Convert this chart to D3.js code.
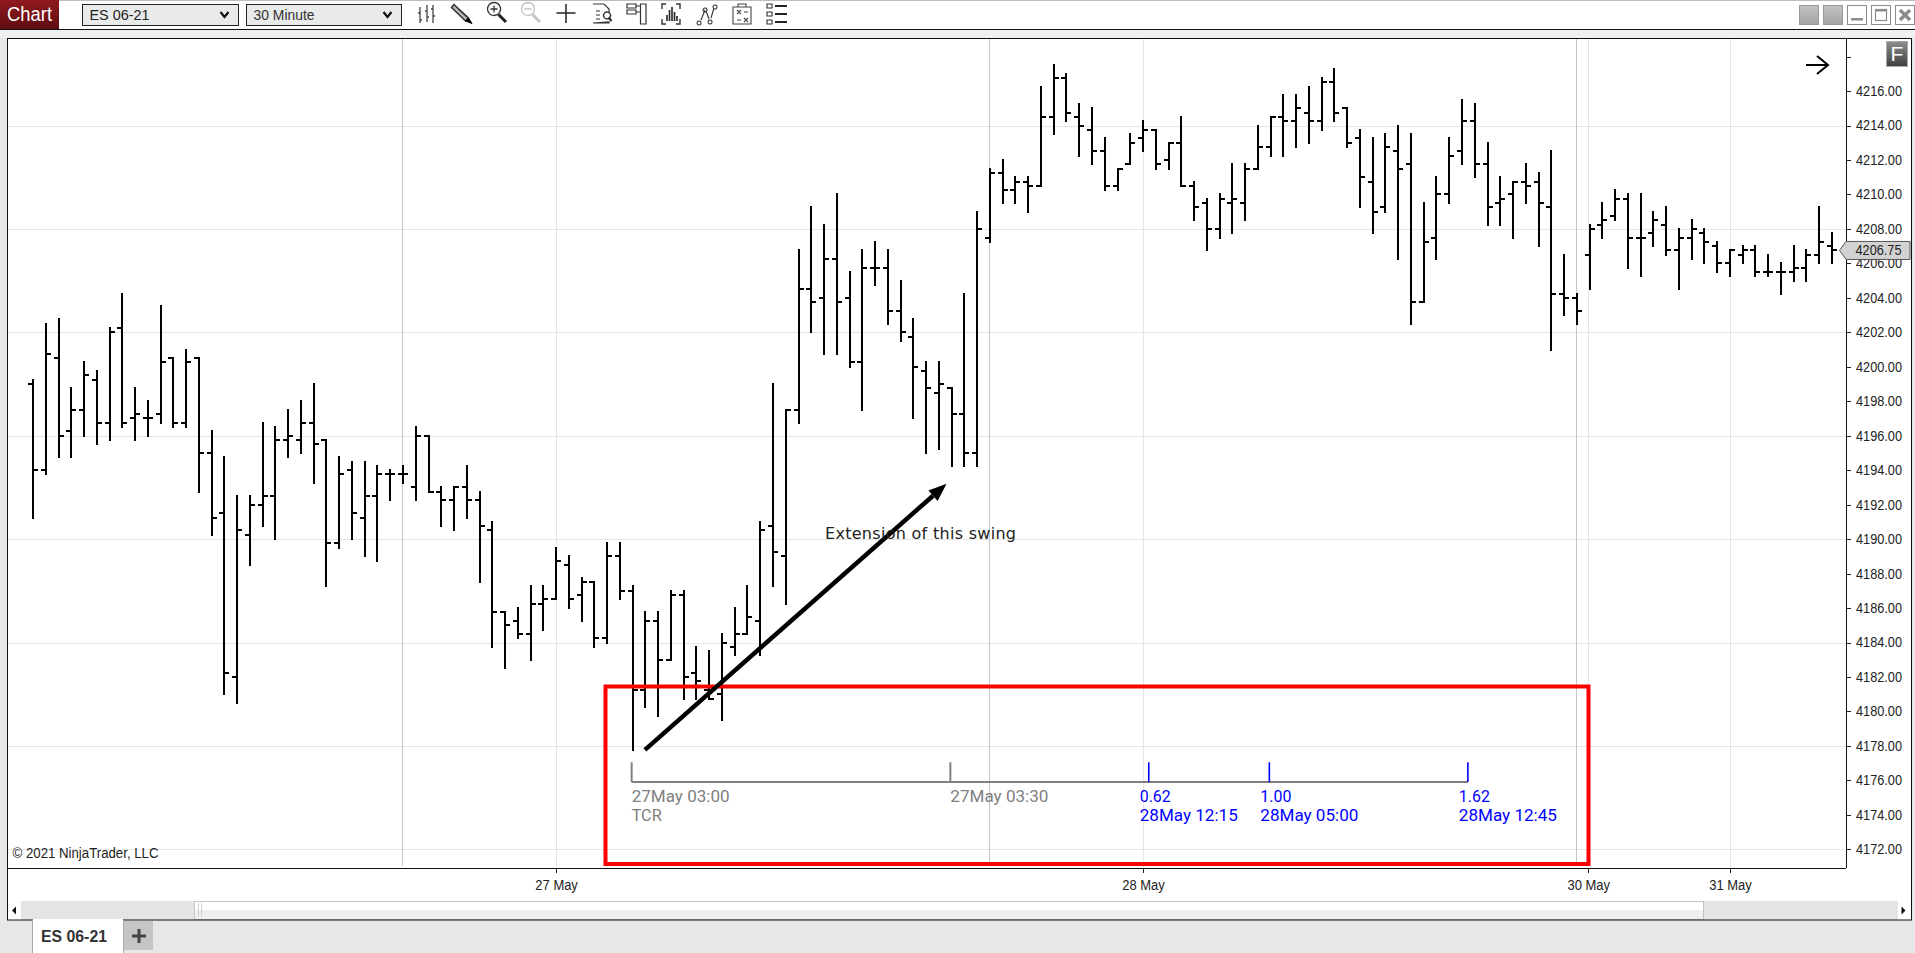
<!DOCTYPE html>
<html>
<head>
<meta charset="utf-8">
<style>
body{margin:0;background:#e6e7e9;overflow:hidden;}
svg{display:block;}
text{font-family:"Liberation Sans",Arial,sans-serif;}
.bar line{stroke:#000;stroke-width:2px;shape-rendering:crispEdges;}
.axis path{display:none;}
.axis line{stroke:#222;shape-rendering:crispEdges;}
.axis text{font-size:14px;fill:#222;font-family:"Liberation Sans",Arial,sans-serif;}
.grid{stroke:#e6e6e6;stroke-width:1px;shape-rendering:crispEdges;}
.session{stroke:#c6c6c6;stroke-width:1px;shape-rendering:crispEdges;}
.fibText{font-family:Roboto,sans-serif;font-size:16px;}
</style>
</head>
<body>
<script src="https://d3js.org/d3.v7.min.js"></script>
<script>
// ---------- 30 minute bars, ES 06-21 ------------
var barOpen = [
4199,4194,4200.5,4196.25,4197.5,4199.25,4196.75,4202.25,4197,4197,
4197.25,4200.5,4196.75,4200.5,4195,4191.5,4182,4190.25,4192,4192.5,
4195.75,4195.75,4196.75,4195.75,4189.75,4194,4191.25,4192.5,4193.75,4193.75,
4193,4196,4192.75,4192.25,4193,4192.25,4190.5,4185.75,4185.25,4184.5,
4186.25,4186.5,4188.5,4186.75,4187.5,4184.25,4189,4187,4181.25,4185.25,
4183,4186.75,4182.25,4181.25,4181,4183.75,4184.5,4185.25,4190.75,4189,
4197.5,4204.5,4204,4206.25,4204,4200.25,4205.75,4205.75,4203.25,4201.75,
4199.75,4198.5,4198.75,4197.25,4195,4207.5,4211.25,4210.25,4210.75,4210.5,
4214.5,4216.75,4214.5,4213.75,4212.5,4210.5,4211.75,4213.25,4213.75,4212,
4213,4210.5,4209.5,4208,4209.5,4209.5,4211.5,4212.75,4214.5,4214.25,
4214.75,4214.25,4216.5,4215,4213.25,4210.75,4209.25,4212.5,4211.75,4203.75,
4207.5,4210,4212.5,4214.25,4211.75,4209.5,4210,4210.75,4210.75,4209.25,
4204.25,4204,4206.5,4208.25,4208.75,4209.75,4207.5,4207.75,4208.25,4206.75,
4207.5,4207.75,4207,4206,4206.5,4206.75,4205.5,4205.5,4205.5,4205.75,
4206.5,4207];
var barHigh = [
4199.25,4202.5,4202.75,4198.75,4200.25,4199.75,4202.25,4204.25,4198.75,4198,
4203.5,4200.5,4201,4200.5,4196.25,4194.75,4192.5,4192.5,4196.75,4196.5,
4197.5,4198,4199,4195.75,4194.75,4194.5,4194.5,4194.25,4194,4194.25,
4196.5,4196,4193,4193,4194.25,4192.75,4191,4185.75,4186,4187.25,
4187.25,4189.5,4189,4187.75,4187.5,4189.75,4189.75,4187.25,4185.75,4185.75,
4187,4187,4183.75,4183.5,4184.5,4186,4187.25,4191,4199,4197.5,
4206.75,4209.25,4208.25,4210,4205.5,4206.75,4207.25,4206.75,4205,4202.75,
4200.25,4200.25,4198.75,4204.25,4209,4211.5,4212,4211,4211,4216.25,
4217.5,4217,4215.25,4215,4213.25,4211.5,4213.5,4214.25,4213.75,4213,
4214.5,4210.75,4209.75,4210,4211.75,4211.75,4214,4214.5,4215.75,4215.75,
4216.25,4216.75,4217.25,4215,4213.75,4213.25,4213.5,4214,4213.5,4209.5,
4211,4213.25,4215.5,4215.25,4213,4211,4210.75,4211.75,4211.25,4212.5,
4206.5,4204.25,4208.25,4209.5,4210.25,4210,4210,4209,4209.25,4208,
4208.5,4208,4207.25,4206.75,4207,4207,4206.5,4206,4207,4206.75,
4209.25,4207.75];
var barLow = [
4191.25,4193.75,4194.75,4194.75,4196,4195.5,4195.75,4196.5,4195.75,4196,
4196.75,4196.5,4196.5,4192.75,4190.25,4181,4180.5,4188.5,4190.75,4190,
4194.75,4195,4193.25,4187.25,4189.5,4190,4189,4188.75,4192.25,4193.25,
4192.25,4192.75,4190.75,4190.5,4191.25,4187.5,4183.75,4182.5,4184.25,4183,
4184.75,4186.5,4186,4185.25,4183.75,4184,4186.5,4177.75,4180.25,4179.75,
4183,4180.75,4180.75,4180.75,4179.5,4183.25,4184.5,4183.25,4187.25,4186.25,
4196.75,4202,4200.75,4200.75,4200,4197.5,4204.75,4202.5,4201.5,4197,
4195,4195.25,4194.25,4194.25,4194.25,4207.25,4209.5,4209.5,4209,4210.5,
4213.5,4214.25,4212.25,4211.75,4210.25,4210.25,4211.75,4212.5,4211.5,4211.5,
4210.5,4208.5,4206.75,4207.5,4207.75,4208.5,4211.5,4212.25,4212.25,4212.75,
4213,4213.75,4214.25,4212.75,4209.25,4207.75,4209,4206.25,4202.5,4203.75,
4206.25,4209.5,4211.75,4211,4208.25,4208.25,4207.5,4209.5,4207,4201,
4203,4202.5,4204.5,4207.5,4208.5,4205.75,4205.25,4207,4206.5,4204.5,
4206.25,4206,4205.5,4205.25,4206,4205.25,4205.25,4204.25,4205,4205,
4206,4206];
var barClose = [
4194,4200.75,4196,4197.5,4199.5,4196.75,4202,4196.75,4197.25,4197,
4200.25,4196.75,4200.25,4195,4191.25,4182.25,4190.5,4192,4192.5,4195.75,
4196,4196.75,4195.5,4189.75,4193.75,4191.5,4192.5,4193.75,4193.75,4193.75,
4196,4192.75,4192.25,4193,4192.25,4190.75,4185.75,4185,4184.5,4186.25,
4186.5,4188.75,4186.5,4187.5,4184.25,4189,4187,4181.25,4185.25,4183,
4186.75,4182,4181.75,4180.75,4184,4184.5,4185.5,4190.5,4189.25,4197.5,
4204.5,4203.75,4206.25,4203.75,4200.25,4205.75,4205.75,4203.25,4202,4200,
4198.75,4199,4197.25,4195,4208,4211.25,4210.25,4210.75,4210.5,4214.5,
4216.75,4214.75,4214,4212.5,4210.5,4211.5,4213,4213.75,4211.75,4213,
4210.5,4209.25,4208,4209.75,4209.75,4211.5,4212.75,4214.5,4214.25,4215,
4214.25,4216.5,4214.75,4213,4211,4209,4212.75,4211.5,4203.75,4207.25,
4210,4212.25,4214.25,4211.75,4209.25,4209.75,4210.75,4210.5,4209.5,4204.25,
4204,4203.25,4208,4208.5,4209.75,4207.5,4207.5,4208.5,4206.75,4207.5,
4208,4207.25,4206,4206.75,4206.75,4205.5,4205.5,4205.5,4205.75,4206.5,
4207.25,4206.75];

// axis values
var priceTicks = [4172,4174,4176,4178,4180,4182,4184,4186,4188,4190,4192,4194,4196,4198,4200,4202,4204,4206,4208,4210,4212,4214,4216,4218];
var priceGrid = [4172,4178,4184,4190,4196,4202,4208,4214];
var dateBars = [41,87,121.9,133];
var dateLabels = ["27 May","28 May","30 May","31 May"];
var sessionBars = [29,75,121];
var lastPrice = 4206.75;

// drawing objects, in bar / price units
var arrowBars = [47.96,71.6];
var arrowPrices = [4177.77,4193.21];
var fibLevelPrice = 4175.9;
var fibTopPrice = 4177.05;
var fibBars = [46.92,71.9,87.45,96.9,112.46];
var fibColors = ["#808080","#808080","#0000ff","#0000ff","#0000ff"];
var fibLine1 = ["27May 03:00","27May 03:30","0.62","1.00","1.62"];
var fibLine2 = ["TCR","","28May 12:15","28May 05:00","28May 12:45"];
var noteText = "Extension of this swing";

var width = 1915, height = 953;
var frameLeft = 7.5, frameRight = 1911.5, frameTop = 38.5, frameBottom = 920;
var axisX = 1846, axisY = 868;

var x = d3.scaleLinear().domain([0,141]).range([33,1832]);
var y = d3.scaleLinear().domain([4172,4214]).range([849.3,125.5]);
var px = function(i){ return Math.round(x(i)); };
var py = function(v){ return Math.round(y(v)); };

var svg = d3.select("body").append("svg").attr("width",width).attr("height",height);

// ---------- window chrome ------------
var defs = svg.append("defs");
function vGrad(id,a,b){
    var g = defs.append("linearGradient").attr("id",id).attr("x1",0).attr("y1",0).attr("x2",0).attr("y2",1);
    g.append("stop").attr("offset","0%").attr("stop-color",a);
    g.append("stop").attr("offset","100%").attr("stop-color",b);
}
vGrad("redBtn","#8f1a1f","#5f0c10");
vGrad("grayBtn","#c4c2c2","#a5a3a3");
vGrad("fBtn","#8d8d8d","#3f3f3f");

svg.append("rect").attr("width",width).attr("height",height).attr("fill","#e6e7e9");
svg.append("rect").attr("width",width).attr("height",29).attr("fill","#fff");
svg.append("rect").attr("width",width).attr("height",1).attr("fill","#bdbdbd");
svg.append("rect").attr("y",30).attr("width",width).attr("height",8).attr("fill","#eff1f0");
svg.append("rect").attr("y",29).attr("width",width).attr("height",1).attr("fill","#111");

svg.append("rect").attr("width",59).attr("height",29).attr("fill","url(#redBtn)");
svg.append("text").attr("x",7).attr("y",21).attr("fill","#fff").style("font-size","20px")
    .attr("textLength",45).attr("lengthAdjust","spacingAndGlyphs").text("Chart");

[[82.5,156,"ES 06-21","#222"],[246.5,155,"30 Minute","#333"]].forEach(function(d){
    svg.append("rect").attr("x",d[0]).attr("y",4.5).attr("width",d[1]).attr("height",21)
        .attr("fill","#e9eaea").attr("stroke","#222").attr("stroke-width",1);
    svg.append("text").attr("x",d[0]+7).attr("y",20).attr("fill",d[3]).style("font-size","15px")
        .attr("textLength",d[2].length==8 ? 60 : 61).attr("lengthAdjust","spacingAndGlyphs").text(d[2]);
    var cx = d[0]+d[1]-14;
    svg.append("path").attr("d","M"+(cx-4)+",12 L"+cx+",17 L"+(cx+4)+",12")
        .attr("fill","none").attr("stroke","#111").attr("stroke-width",2.2);
});

// toolbar icons, each drawn around its own centre
var icons = [
  {x:427,d:"M-7,-7V9M-7,-1H-9M-7,6H-5 M0,-9V8M0,-3H-2M0,3H2 M6,-9V9M6,-5H4M6,2H8",c:"#444",w:1.3,f:"none"},
  {x:462,d:"M-8,-9.5L-10.5,-6.5L3.5,7L6.5,4Z M-6,-7.5L5,3",c:"#333",w:1.5,f:"#b5b5b5"},
  {x:462,d:"M3.5,7L6.5,4L10,9.5Z",c:"#000",w:1,f:"#000"},
  {x:494,d:"M0,-11.5A6.5,6.5 0 1 0 0.1,-11.5Z M-3.5,-5H3.5M0,-8.5V-1.5",c:"#333",w:1.3,f:"none"},
  {x:494,d:"M4.5,0.5L12,8",c:"#222",w:3,f:"none"},
  {x:528,d:"M0,-11.5A6.5,6.5 0 1 0 0.1,-11.5Z M-3.5,-5H3.5",c:"#c4c4c4",w:1.3,f:"none"},
  {x:528,d:"M4.5,0.5L12,8",c:"#c4c4c4",w:3,f:"none"},
  {x:566,d:"M-9.5,-1H9.5M0,-10V9",c:"#222",w:1.5,f:"none"},
  {x:601,d:"M-8,-10H3L8,-5V-1M8,8V9H-8Z M-5,-3H-1M-5,1H-1M-5,5H-1",c:"#333",w:1.2,f:"none"},
  {x:601,d:"M6,-2A3.5,3.5 0 1 0 6.1,-2Z",c:"#333",w:1.4,f:"none"},
  {x:601,d:"M7.5,3.5L10.5,7",c:"#222",w:2,f:"none"},
  {x:636,d:"M-9,-10H0V-6H-9Z M-9,-4H0V0H-9Z M0,-8H4M0,-2H4 M4.5,-10H10V10H4.5Z",c:"#333",w:1.2,f:"none"},
  {x:671,d:"M-9,-5V-10H-5M5,-10H9V-5M-9,5V10H-5M5,10H9V5",c:"#333",w:1.4,f:"none"},
  {x:671,d:"M-4,7V1M-1.5,7V-4M1,7V-7M3.5,7V-2M6,7V2",c:"#222",w:1.6,f:"none"},
  {x:707,d:"M-8,7A2,2 0 1 0 -7.9,7Z M-6,6L-2,-4 M-2,-6A2,2 0 1 0 -1.9,-6Z M-1,-3L2,5 M3,6A2,2 0 1 0 3.1,6Z M4,4L7,-6 M8,-9A2,2 0 1 0 8.1,-9Z",c:"#333",w:1.1,f:"none"},
  {x:742,d:"M-9,-7H9V10H-9Z M-4,-10H4V-7H-4Z M-5,-4L-1,0M-1,-4L-5,0M2,4L6,8M6,4L2,8M-5,6L-1,6M2,-2H6",c:"#444",w:1.1,f:"none"},
  {x:777,d:"M-10,-10H-5V-6H-10Z M-10,-2H-5V2H-10Z M-10,6H-5V10H-10Z",c:"#333",w:1.1,f:"none"},
  {x:777,d:"M-2,-8H10M-2,0H10M-2,8H10",c:"#222",w:1.8,f:"none"}
];
svg.append("g").selectAll("path").data(icons).join("path")
    .attr("transform",function(d){ return "translate("+d.x+",14)"; })
    .attr("d",function(d){ return d.d; })
    .attr("fill",function(d){ return d.f; }).attr("stroke",function(d){ return d.c; }).attr("stroke-width",function(d){ return d.w; });

// window buttons
[1799.5,1823.5].forEach(function(bx){
    svg.append("rect").attr("x",bx).attr("y",5.5).attr("width",19).attr("height",19).attr("fill","url(#grayBtn)").attr("stroke","#999");
});
[1847.5,1871.5,1895.5].forEach(function(bx){
    svg.append("rect").attr("x",bx).attr("y",5.5).attr("width",19).attr("height",19).attr("fill","#fff").attr("stroke","#8c8c8c");
});
svg.append("rect").attr("x",1851).attr("y",18).attr("width",12).attr("height",2.5).attr("fill","#8c8c8c");
svg.append("rect").attr("x",1875.5).attr("y",9.5).attr("width",11).attr("height",11).attr("fill","none").attr("stroke","#8c8c8c").attr("stroke-width",1.2);
svg.append("rect").attr("x",1875.5).attr("y",9).attr("width",11).attr("height",2.5).attr("fill","#8c8c8c");
svg.append("path").attr("d","M1900,10L1910,20M1910,10L1900,20").attr("stroke","#8c8c8c").attr("stroke-width",3.4);

// chart frame
svg.append("rect").attr("x",frameLeft).attr("y",frameTop).attr("width",frameRight-frameLeft).attr("height",frameBottom-frameTop)
    .attr("fill","#fff");

// ---------- grid ------------
svg.append("g").selectAll("line").data(priceGrid).join("line").attr("class","grid")
    .attr("x1",frameLeft).attr("x2",axisX).attr("y1",function(d){ return py(d); }).attr("y2",function(d){ return py(d); });
svg.append("g").selectAll("line").data(dateBars).join("line").attr("class","grid")
    .attr("x1",function(d){ return px(d); }).attr("x2",function(d){ return px(d); }).attr("y1",frameTop).attr("y2",axisY);
svg.append("g").selectAll("line").data(sessionBars).join("line").attr("class","session")
    .attr("x1",function(d){ return px(d)-1; }).attr("x2",function(d){ return px(d)-1; }).attr("y1",frameTop).attr("y2",866);

// ---------- OHLC bars ------------
var bars = svg.append("g").selectAll("g").data(barOpen).join("g").attr("class","bar");
bars.append("line")
    .attr("x1",function(d,i){ return px(i); }).attr("x2",function(d,i){ return px(i); })
    .attr("y1",function(d,i){ return py(barHigh[i])-1; }).attr("y2",function(d,i){ return py(barLow[i])+1; });
bars.append("line")
    .attr("x1",function(d,i){ return px(i)-5; }).attr("x2",function(d,i){ return px(i); })
    .attr("y1",function(d){ return py(d); }).attr("y2",function(d){ return py(d); });
bars.append("line")
    .attr("x1",function(d,i){ return px(i); }).attr("x2",function(d,i){ return px(i)+5; })
    .attr("y1",function(d,i){ return py(barClose[i]); }).attr("y2",function(d,i){ return py(barClose[i]); });

// ---------- red box sits over the bars, under the arrow ------------
svg.append("rect").attr("x",605.5).attr("y",686.5).attr("width",983).attr("height",177.5)
    .attr("fill","none").attr("stroke","#ff0000").attr("stroke-width",4);

// ---------- axes ------------
var yAxis = d3.axisRight(y).tickValues(priceTicks).tickSize(5).tickPadding(5)
    .tickFormat(function(d){ return d==4218 ? "" : d3.format(".2f")(d); });
var yAxisG = svg.append("g").attr("class","axis").attr("transform","translate("+axisX+",0)").call(yAxis);
yAxisG.selectAll("text").filter(function(d){ return d!=4218; }).attr("textLength",46).attr("lengthAdjust","spacingAndGlyphs");

var xAxis = d3.axisBottom(x).tickValues(dateBars).tickSize(5).tickPadding(7)
    .tickFormat(function(d,i){ return dateLabels[i]; });
var xAxisG = svg.append("g").attr("class","axis").attr("transform","translate(0,"+axisY+")").call(xAxis);
xAxisG.selectAll("text").attr("textLength",42.5).attr("lengthAdjust","spacingAndGlyphs");

svg.append("line").attr("x1",axisX+.5).attr("x2",axisX+.5).attr("y1",frameTop).attr("y2",axisY).attr("stroke","#111");
svg.append("line").attr("x1",frameLeft).attr("x2",axisX).attr("y1",axisY+.5).attr("y2",axisY+.5).attr("stroke","#111");

svg.append("text").attr("x",12.5).attr("y",858).attr("fill","#222").style("font-size","14px")
    .attr("textLength",146).attr("lengthAdjust","spacingAndGlyphs").text("\u00a9 2021 NinjaTrader, LLC");

// ---------- last price marker ------------
var ly = y(lastPrice);
svg.append("path").attr("d","M1839.5,"+ly+" L1846,"+(ly-9)+" H1910 V"+(ly+9)+" H1846 Z")
    .attr("fill","#d2d2d2").attr("stroke","#555");
svg.append("text").attr("x",1855.5).attr("y",ly+5).attr("fill","#222").style("font-size","14px")
    .attr("textLength",46).attr("lengthAdjust","spacingAndGlyphs").text(d3.format(".2f")(lastPrice));

// F button and the arrow next to it
svg.append("rect").attr("x",1886.5).attr("y",41.5).attr("width",21).attr("height",25).attr("fill","url(#fBtn)").attr("stroke","#aaa");
svg.append("text").attr("x",1897).attr("y",61).attr("text-anchor","middle").attr("fill","#fff").style("font-size","21px").text("F");
svg.append("path").attr("d","M1806,65H1828M1817,56L1828,65L1817,74").attr("fill","none").attr("stroke","#000").attr("stroke-width",2);

// ---------- fibonacci time extension ------------
function fibWidth(s){ return s.length>6 ? 98 : (s.length==3 ? 30 : 31); }
var fib = svg.append("g");
fib.append("line").attr("x1",x(fibBars[0])).attr("x2",x(fibBars[4]))
    .attr("y1",y(fibLevelPrice)).attr("y2",y(fibLevelPrice)).attr("stroke","#808080").attr("stroke-width",2);
fib.selectAll(".fibTick").data(fibBars).join("line").attr("class","fibTick")
    .attr("x1",function(d){ return x(d); }).attr("x2",function(d){ return x(d); })
    .attr("y1",y(fibTopPrice)).attr("y2",y(fibLevelPrice))
    .attr("stroke",function(d,i){ return fibColors[i]; }).attr("stroke-width",function(d,i){ return i<2 ? 2 : 1.6; });
fib.selectAll(".fibA").data(fibLine1).join("text").attr("class","fibText fibA")
    .attr("x",function(d,i){ return x(fibBars[i])+(i<2 ? 0 : -9); }).attr("y",802)
    .attr("textLength",fibWidth).attr("lengthAdjust","spacingAndGlyphs")
    .attr("fill",function(d,i){ return fibColors[i]; }).text(function(d){ return d; });
fib.selectAll(".fibB").data(fibLine2.filter(function(d){ return d!=""; })).join("text").attr("class","fibText fibB")
    .attr("x",function(d){ var i = fibLine2.indexOf(d); return x(fibBars[i])+(i<2 ? 0 : -9); }).attr("y",821)
    .attr("textLength",fibWidth).attr("lengthAdjust","spacingAndGlyphs")
    .attr("fill",function(d){ return fibColors[fibLine2.indexOf(d)]; }).text(function(d){ return d; });

// ---------- swing arrow and note ------------
var x0 = x(arrowBars[0]), y0 = y(arrowPrices[0]), x1 = x(arrowBars[1]), y1 = y(arrowPrices[1]);
var ang = Math.atan2(y1-y0,x1-x0);
var headLen = 18, headWide = 7;
var bx = x1-headLen*Math.cos(ang), by = y1-headLen*Math.sin(ang);
svg.append("line").attr("x1",x0).attr("y1",y0).attr("x2",bx).attr("y2",by).attr("stroke","#000").attr("stroke-width",4.5);
svg.append("path").attr("d","M"+x1+","+y1+" L"+(bx+headWide*Math.sin(ang))+","+(by-headWide*Math.cos(ang))+" L"+(bx-headWide*Math.sin(ang))+","+(by+headWide*Math.cos(ang))+" Z").attr("fill","#000");

svg.append("text").attr("x",825).attr("y",539).attr("fill","#222")
    .style("font-family","'DejaVu Sans',sans-serif").style("font-size","16px")
    .attr("textLength",191).text(noteText);

// ---------- scrollbar ------------
svg.append("rect").attr("x",frameLeft).attr("y",901).attr("width",frameRight-frameLeft).attr("height",19).attr("fill","#e4e4e4");
svg.append("rect").attr("x",8).attr("y",901).attr("width",13).attr("height",19).attr("fill","#fff");
svg.append("rect").attr("x",1898).attr("y",901).attr("width",13).attr("height",19).attr("fill","#fff");
svg.append("path").attr("d","M16,906.5L12,910.5L16,914.5Z").attr("fill","#111");
svg.append("path").attr("d","M1901.5,906.5L1905.5,910.5L1901.5,914.5Z").attr("fill","#111");
svg.append("rect").attr("x",194.5).attr("y",901.5).attr("width",1509).attr("height",18).attr("fill","#fff").attr("stroke","#c4c4c4");
svg.append("rect").attr("x",195).attr("y",910).attr("width",1508).attr("height",9).attr("fill","#f0f0f0");
svg.append("path").attr("d","M198.5,903V917M201.5,903V917").attr("stroke","#d0d0d0");
svg.append("rect").attr("x",frameLeft).attr("y",frameTop).attr("width",frameRight-frameLeft).attr("height",frameBottom-frameTop)
    .attr("fill","none").attr("stroke","#111");

// ---------- tabs ------------
svg.append("path").attr("d","M32.5,953V920.5H123.5V953").attr("fill","#fff").attr("stroke","#aaa");
svg.append("rect").attr("x",33).attr("y",919).attr("width",90).attr("height",3).attr("fill","#fff");
svg.append("text").attr("x",41).attr("y",942).attr("fill","#333").style("font-size","16px").style("font-weight","bold")
    .attr("textLength",66).attr("lengthAdjust","spacingAndGlyphs").text("ES 06-21");
svg.append("rect").attr("x",124).attr("y",921).attr("width",29).attr("height",29).attr("fill","#c5c5c5");
svg.append("path").attr("d","M132,936H146M139,929V943").attr("stroke","#444").attr("stroke-width",3);
</script>
</body>
</html>
